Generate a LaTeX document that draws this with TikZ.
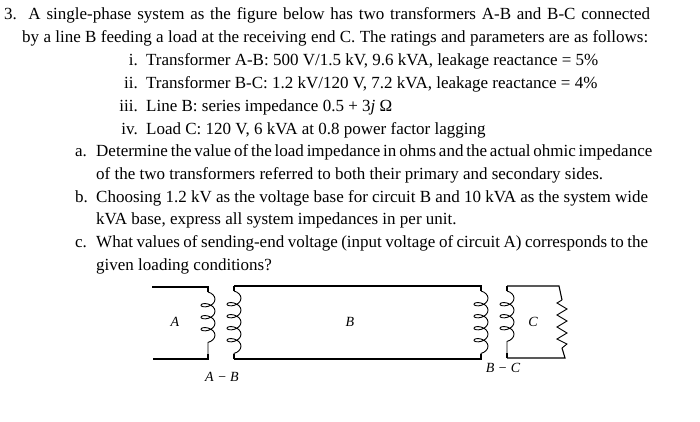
\documentclass[tikz,border=0pt]{standalone}
\usepackage{fontspec}
\setmainfont{Liberation Serif}
\usetikzlibrary{decorations.pathmorphing}
\begin{document}
\begin{tikzpicture}[x=1pt,y=-1pt,
  txt/.style={anchor=base west,inner sep=0pt,font=\fontsize{17}{19}\selectfont},
  lbl/.style={inner sep=0pt,font=\fontsize{14}{16}\selectfont\itshape},
  wire/.style={line width=1.1pt},
  coilw/.style={line width=0.9pt,decorate,decoration={coil,aspect=0.6,amplitude=7pt,segment length=12pt}}]
\useasboundingbox (0,0) rectangle (700,421);
\node[txt] (l1) at (4,19) {\makebox[646pt][s]{3.\ \ A single-phase system as the figure below has two transformers A-B and B-C connected}};
\node[txt] (l2) at (22,42) {\makebox[626pt][s]{by a line B feeding a load at the receiving end C. The ratings and parameters are as follows:}};
\node[txt,anchor=base east] (n1) at (138,65) {i.};
\node[txt] (t1) at (146,65) {Transformer A-B: 500 V/1.5 kV, 9.6 kVA, leakage reactance = 5\%};
\node[txt,anchor=base east] (n2) at (138,88) {ii.};
\node[txt] (t2) at (146,88) {Transformer B-C: 1.2 kV/120 V, 7.2 kVA, leakage reactance = 4\%};
\node[txt,anchor=base east] (n3) at (138,111) {iii.};
\node[txt] (t3) at (146,111) {Line B: series impedance 0.5 + 3\textit{j} Ω};
\node[txt,anchor=base east] (n4) at (138,134) {iv.};
\node[txt] (t4) at (146,134) {Load C: 120 V, 6 kVA at 0.8 power factor lagging};
\node[txt] (a1) at (75,156) {a.};
\node[txt] (a2) at (96,156) {\makebox[551pt][s]{Determine the value of the load impedance in ohms and the actual ohmic impedance}};
\node[txt] (a3) at (96,179) {of the two transformers referred to both their primary and secondary sides.};
\node[txt] (b1) at (75,202) {b.};
\node[txt] (b2) at (96,202) {\makebox[552pt][s]{Choosing 1.2 kV as the voltage base for circuit B and 10 kVA as the system wide}};
\node[txt] (b3) at (96,224) {kVA base, express all system impedances in per unit.};
\node[txt] (c1) at (75,247) {c.};
\node[txt] (c2) at (96,247) {\makebox[552pt][s]{What values of sending-end voltage (input voltage of circuit A) corresponds to the}};
\node[txt] (c3) at (96,270) {given loading conditions?};
% coordinates
\coordinate (a0) at (152,287); \coordinate (a1t) at (208,287);
\coordinate (a1b) at (208,359); \coordinate (ab0) at (153,359);
\coordinate (b0t) at (234,286); \coordinate (b1t) at (481,286);
\coordinate (b0b) at (234,359); \coordinate (b1b) at (481,359);
\coordinate (c0t) at (507,286); \coordinate (c1t) at (559,286);
\coordinate (c0b) at (507,358); \coordinate (c1b) at (565,358);
\draw[wire] (a0) -- (a1t) -- ++(0,5);
\draw[wire] (ab0) -- (a1b) -- ++(0,-5);
\draw[coilw] (208,292) -- (208,354);
\draw[wire] (b0t) -- (b1t) -- ++(0,5);
\draw[wire] (b0b) -- (b1b) -- ++(0,-5);
\draw[wire] (b0t) -- ++(0,5); \draw[wire] (b0b) -- ++(0,-5);
\draw[coilw] (234,291) -- (234,354);
\draw[coilw] (481,291) -- (481,354);
\draw[wire] (c0t) -- ++(0,5); \draw[wire] (c0b) -- ++(0,-5);
\draw[coilw] (507,291) -- (507,353);
\draw[wire] (c0t) -- (c1t) -- (562,300);
\draw[wire] (c0b) -- (c1b) -- (562,348);
\draw[line width=0.9pt] (562,300) -- (557,303) -- (567,309) -- (557,315) -- (567,321) -- (557,327) -- (567,333) -- (557,339) -- (567,344) -- (562,348);
\node[lbl] (A) at (175,322) {A};
\node[lbl] (B) at (350,322) {B};
\node[lbl] (C) at (533,322) {C};
\node[lbl] (AB) at (222,377) {A − B};
\node[lbl] (BC) at (503,368) {B − C};
\end{tikzpicture}
\end{document}
